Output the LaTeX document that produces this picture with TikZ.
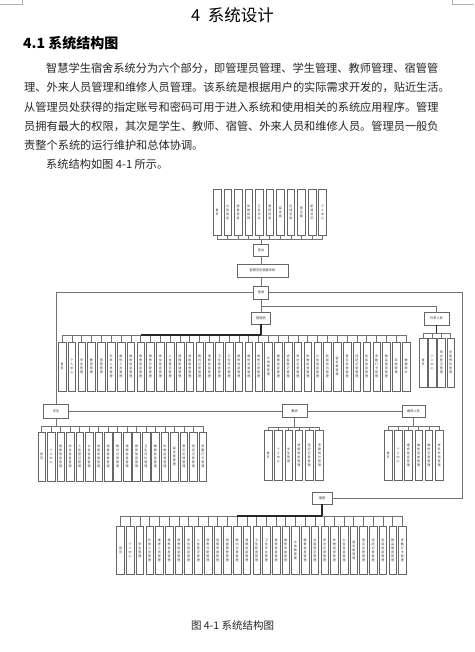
\documentclass[tikz,border=0pt]{standalone}
\usepackage{fontspec}
\setmainfont{Noto Sans CJK SC}
\XeTeXlinebreaklocale "zh"
\XeTeXlinebreakskip=0pt plus 3pt minus 0.5pt
\def\vt#1{\vtA#1\relax}
\def\vtA#1#2{#1\ifx\relax#2\else\\\expandafter\vtA\expandafter#2\fi}
\newcommand\vlab[1]{\expandafter\vt\expandafter{#1}}
\tikzset{
  vb/.style={draw=black!60, line width=0.5pt, inner sep=0pt, minimum width=7.6pt,
    align=center, font=\fontsize{3}{4}\selectfont, text=black!80},
  hb/.style={draw=black!60, line width=0.5pt, inner sep=0pt,
    font=\fontsize{3.2}{4}\selectfont, text=black!80},
  ln/.style={draw=black!55, line width=0.6pt},
  tk/.style={draw=black!85, line width=1.1pt},
  para/.style={anchor=base west, inner sep=0pt, font=\fontsize{11.2}{11.2}\selectfont, text=black!85},
}
\begin{document}
\begin{tikzpicture}[x=1pt,y=-1pt]
\useasboundingbox (0,0) rectangle (474,652);
\fill[white] (0,0) rectangle (474,652);
% crop marks
\draw[black!30, line width=0.5pt] (0,4) -- (22,4) -- (22,0);
\draw[black!30, line width=0.5pt] (474,4) -- (452,4) -- (452,0);
% headings and text
\node[anchor=base west, inner sep=0pt, font=\fontsize{16.5}{16.5}\selectfont] (title) at (191,21.3) {4\hspace{0.45em}系统设计};
\node[anchor=base west, inner sep=0pt, font=\fontsize{14}{14}\selectfont\bfseries] (sec) at (23,48.3) {4.1 系统结构图};
\node[para] (p1) at (46,72.8) {\hbox to 399pt{智慧学生宿舍系统分为六个部分，即管理员管理、学生管理、教师管理、宿管管}};
\node[para] (p2) at (24,92) {\hbox to 421pt{理、外来人员管理和维修人员管理。该系统是根据用户的实际需求开发的，贴近生活。}};
\node[para] (p3) at (24,111.2) {\hbox to 421pt{从管理员处获得的指定账号和密码可用于进入系统和使用相关的系统应用程序。管理}};
\node[para] (p4) at (24,130.4) {\hbox to 421pt{员拥有最大的权限，其次是学生、教师、宿管、外来人员和维修人员。管理员一般负}};
\node[para] (p5) at (24,149.6) {责整个系统的运行维护和总体协调。};
\node[para] (p6) at (46,168.8) {系统结构如图 4-1 所示。};
% caption
\node[inner sep=0pt, font=\fontsize{10.5}{10.5}\selectfont, text=black!85] (cap) at (232.5,625) {图 4-1 系统结构图};

% ---------- top row ----------
\foreach \t [count=\i from 0] in {首页,公告信息,宿舍信息,失物招领,卫生评比,报修信息,留言板,在线咨询,意见箱,新闻资讯,个人中心}
  \node[vb, minimum height=46pt] (t\i) at ({217+10.55*\i},212) {\vlab{\t}};
\coordinate (tbus) at (0,239);
\foreach \i in {0,...,10} \draw[ln] (t\i.south) -- (t\i.south |- tbus);
\draw[ln] (t0.south |- tbus) -- (t10.south |- tbus);

\node[hb, minimum width=15pt, minimum height=12pt] (qt) at (261,250) {前台};
\node[hb, minimum width=51pt, minimum height=13pt] (sys) at (262.5,270.5) {智慧学生宿舍系统};
\node[hb, minimum width=15pt, minimum height=13pt] (dl) at (261,292.5) {登录};
\node[hb, minimum width=19pt, minimum height=12pt] (adm) at (261,318) {管理员};
\node[hb, minimum width=25pt, minimum height=13pt] (wl) at (436.5,318.5) {外来人员};
\node[hb, minimum width=25pt, minimum height=14pt] (st) at (56,411) {学生};
\node[hb, minimum width=25pt, minimum height=13pt] (js) at (294.5,411) {教师};
\node[hb, minimum width=23pt, minimum height=12pt] (wx) at (413.5,411) {维修人员};
\node[hb, minimum width=20pt, minimum height=12pt] (sg) at (322,498) {宿管};

\draw[ln] (qt.north) -- (qt.north |- tbus);
\draw[ln] (qt.south) -- (qt.south |- sys.north);
\draw[ln] (sys.south -| dl.north) -- (dl.north);
\draw[ln] (dl.south) -- (adm.north);
\coordinate (br) at (261,306);
\draw[ln] (br) -- (br -| wl.north) -- (wl.north);
\draw[ln] (dl.west) -- (dl.west -| st.north) -- (st.north);
\coordinate (rx) at (462,0);
\draw[ln] (dl.east) -- (dl.east -| rx) -- (rx |- sg.east) -- (sg.east);
\draw[ln] (st.east) -- (js.west);
\draw[ln] (js.east) -- (wx.west);

% ---------- admin children ----------
\foreach \t [count=\i from 0] in {首页,个人中心,学生管理,教师管理,宿管管理,外来人员管理,维修人员管理,楼栋信息管理,宿舍信息管理,宿舍分配管理,床位信息管理,入住登记管理,退宿申请管理,调换宿舍管理,晚归记录管理,请假信息管理,卫生检查管理,卫生评比管理,报修信息管理,维修派单管理,维修记录管理,水电费管理,缴费信息管理,访客登记管理,来访记录管理,失物招领管理,公告信息管理,新闻资讯管理,留言板管理,意见反馈管理,违纪记录管理,奖惩信息管理,考勤打卡管理,物品借用管理,系统管理,数据统计}
  \node[vb, minimum height=49pt] (a\i) at ({62+9.83*\i},366.5) {\vlab{\t}};
\coordinate (abus) at (0,335);
\foreach \i in {0,...,35} \draw[ln] (a\i.north) -- (a\i.north |- abus);
\draw[ln] (a0.north |- abus) -- (a35.north |- abus);
\draw[tk] (a8.north |- abus) -- (adm.south |- abus);
\draw[tk] (adm.south) -- (adm.south |- abus);

% ---------- visitor children ----------
\foreach \t [count=\i from 0] in {首页,个人中心,来访登记管理,访客预约管理}
  \node[vb, minimum height=49pt] (w\i) at ({423+9.2*\i},362.5) {\vlab{\t}};
\coordinate (wbus) at (0,333);
\foreach \i in {0,...,3} \draw[ln] (w\i.north) -- (w\i.north |- wbus);
\draw[ln] (w0.north |- wbus) -- (w3.north |- wbus);
\draw[tk] (wl.south) -- (wl.south |- wbus);

% ---------- student children ----------
\foreach \t [count=\i from 0] in {首页,个人中心,宿舍信息管理,床位信息管理,入住登记管理,公告信息管理,退宿申请管理,调换宿舍管理,晚归记录管理,请假信息管理,报修信息管理,卫生评比管理,缴费信息管理,失物招领管理,留言板管理,意见反馈管理,违纪记录管理,考勤打卡管理}
  \node[vb, minimum height=49pt] (s\i) at ({41.7+9.48*\i},456.5) {\vlab{\t}};
\coordinate (sbus) at (0,426);
\foreach \i in {0,...,17} \draw[ln] (s\i.north) -- (s\i.north |- sbus);
\draw[ln] (s0.north |- sbus) -- (s17.north |- sbus);
\draw[ln] (st.south) -- (st.south |- sbus);

% ---------- teacher children ----------
\foreach \t [count=\i from 0] in {首页,个人中心,学生管理,请假审批管理,违纪记录管理,考勤统计管理}
  \node[vb, minimum height=50pt] (j\i) at ({268+10.3*\i},455) {\vlab{\t}};
\coordinate (jbus) at (0,427);
\foreach \i in {0,...,5} \draw[ln] (j\i.north) -- (j\i.north |- jbus);
\draw[ln] (j0.north |- jbus) -- (j5.north |- jbus);
\draw[ln] (js.south) -- (js.south |- jbus);

% ---------- repair staff children ----------
\foreach \t [count=\i from 0] in {首页,个人中心,报修信息管理,维修派单管理,维修记录管理,材料申领管理}
  \node[vb, minimum height=50pt] (r\i) at ({388+10.2*\i},455) {\vlab{\t}};
\coordinate (rbus) at (0,426);
\foreach \i in {0,...,5} \draw[ln] (r\i.north) -- (r\i.north |- rbus);
\draw[ln] (r0.north |- rbus) -- (r5.north |- rbus);
\draw[ln] (wx.south) -- (wx.south |- rbus);

% ---------- dorm manager children ----------
\foreach \t [count=\i from 0] in {首页,个人中心,学生管理,外来人员管理,维修人员管理,楼栋信息管理,宿舍信息管理,床位信息管理,入住登记管理,宿舍分配管理,退宿申请管理,调换宿舍管理,晚归记录管理,请假信息管理,卫生检查管理,卫生评比管理,报修信息管理,维修派单管理,水电费管理,缴费信息管理,访客登记管理,来访记录管理,失物招领管理,公告信息管理,留言板管理,意见反馈管理,违纪记录管理,奖惩信息管理,物品借用管理,考勤打卡管理}
  \node[vb, minimum height=48pt] (g\i) at ({120.5+9.72*\i},550) {\vlab{\t}};
\coordinate (gbus) at (0,516);
\foreach \i in {0,...,29} \draw[ln] (g\i.north) -- (g\i.north |- gbus);
\draw[ln] (g0.north |- gbus) -- (g29.north |- gbus);
\draw[tk] (g12.north |- gbus) -- (sg.south |- gbus);
\draw[tk] (sg.south) -- (sg.south |- gbus);
\end{tikzpicture}
\end{document}
